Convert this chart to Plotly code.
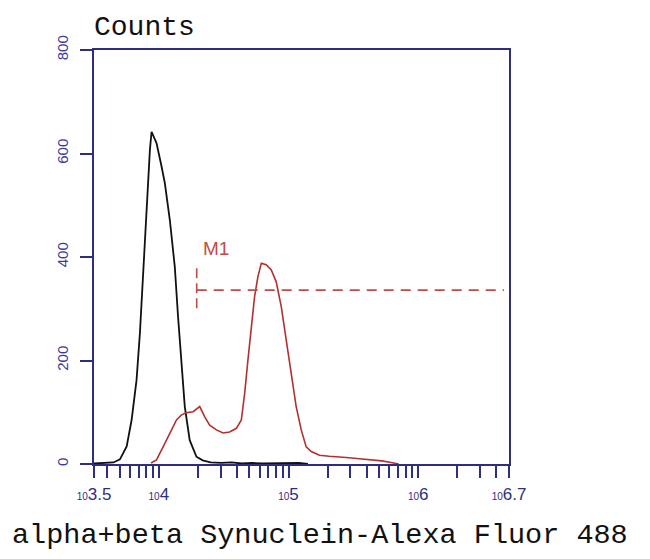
import numpy as np
import plotly.graph_objects as go

# ---- data (log10 of fluorescence, counts) ----
control_log_x = [3.50, 3.58, 3.65, 3.70, 3.752, 3.790, 3.828, 3.854, 3.879, 3.905, 3.931, 3.944,
                 3.982, 4.021, 4.046, 4.085, 4.123, 4.148, 4.175, 4.200, 4.238, 4.290, 4.338,
                 4.40, 4.48, 4.56, 4.64, 4.72, 4.80, 4.90, 5.00, 5.08, 5.15]
control_counts = [1, 2, 3, 9, 34, 85, 162, 253, 369, 478, 607, 642,
                  620, 575, 543, 471, 381, 285, 188, 111, 46, 14, 7,
                  3, 2, 3, 1, 2, 1, 1, 2, 2, 0]

sample_log_x = [3.94, 3.982, 4.033, 4.085, 4.136, 4.175, 4.213, 4.264, 4.315, 4.354, 4.392,
                4.444, 4.495, 4.546, 4.598, 4.636, 4.662, 4.687, 4.713, 4.738, 4.764, 4.790,
                4.828, 4.867, 4.905, 4.944, 4.982, 5.021, 5.059, 5.098, 5.136, 5.175, 5.238,
                5.315, 5.392, 5.469, 5.546, 5.646, 5.72, 5.79, 5.85]
sample_counts = [2, 8, 33, 60, 85, 95, 99, 101, 111, 91, 75,
                 66, 60, 62, 69, 85, 137, 201, 265, 323, 362, 388,
                 385, 375, 352, 304, 240, 176, 111, 66, 33, 24, 17,
                 15, 14, 12, 10, 8, 6, 3, 0]

gate_label = "M1"
gate_log_x = [4.292, 6.662]
gate_count = 336
gate_tick_counts = [301, 380]

x_tick_exponents = ["3.5", "4", "5", "6", "6.7"]
y_tick_values = [0, 200, 400, 600, 800]

x_title = "alpha+beta Synuclein-Alexa Fluor 488"
y_title = "Counts"

# ---- styles ----
NAVY = "#2e2e80"
TICKBLUE = "#3b3b9e"
RED = "#b3302e"
GATE_RED = "#c24a47"
MONO = "Liberation Mono, DejaVu Sans Mono, monospace"

fig = go.Figure()

fig.add_trace(go.Scatter(
    x=10 ** np.array(control_log_x), y=control_counts, mode="lines",
    line=dict(color="#111111", width=1.8), showlegend=False, hoverinfo="skip"))

fig.add_trace(go.Scatter(
    x=10 ** np.array(sample_log_x), y=sample_counts, mode="lines",
    line=dict(color=RED, width=1.6), showlegend=False, hoverinfo="skip"))

# gate M1: horizontal dashed line + vertical dashed tick at its start
fig.add_trace(go.Scatter(
    x=10 ** np.array(gate_log_x), y=[gate_count, gate_count], mode="lines",
    line=dict(color=GATE_RED, width=1.6, dash="10px,7px"), showlegend=False, hoverinfo="skip"))
fig.add_trace(go.Scatter(
    x=[10 ** gate_log_x[0]] * 2, y=gate_tick_counts, mode="lines",
    line=dict(color=GATE_RED, width=1.6, dash="10px,5px"), showlegend=False, hoverinfo="skip"))

fig.add_annotation(
    x=gate_log_x[0] + 0.03, y=gate_tick_counts[1] + 12, xref="x", yref="y",
    text=gate_label, showarrow=False, xanchor="left", yanchor="bottom",
    font=dict(family="Liberation Sans, Arial, sans-serif", size=19, color=GATE_RED))

# ticks
major_vals = [10 ** float(e) for e in x_tick_exponents]
major_text = ["<span style='font-size:10px'>10</span>" + e for e in x_tick_exponents]
minor_vals = []
for dec in [3, 4, 5, 6]:
    for m in range(2, 10):
        v = m * 10 ** dec
        if 10 ** 3.5 < v < 10 ** 6.7:
            minor_vals.append(v)

fig.update_xaxes(
    type="log", range=[3.5, 6.7],
    tickmode="array", tickvals=major_vals, ticktext=major_text,
    ticks="outside", ticklen=12, tickwidth=2, tickcolor=NAVY,
    tickfont=dict(family="Liberation Sans, Arial, sans-serif", size=17, color=NAVY),
    minor=dict(tickmode="array", tickvals=minor_vals, ticks="outside",
               ticklen=12, tickwidth=2, tickcolor=NAVY, showgrid=False),
    showline=True, linecolor=NAVY, linewidth=2, mirror=True,
    showgrid=False, zeroline=False, ticklabelstandoff=2)

fig.update_yaxes(
    range=[0, 800], tickmode="array", tickvals=y_tick_values,
    ticktext=[str(v) for v in y_tick_values], tickangle=-90,
    ticks="outside", ticklen=12, tickwidth=2, tickcolor=NAVY,
    tickfont=dict(family="Liberation Sans, Arial, sans-serif", size=15, color=TICKBLUE),
    showline=True, linecolor=NAVY, linewidth=2, mirror=True,
    showgrid=False, zeroline=False, ticklabelstandoff=6)

fig.add_annotation(
    x=-0.005, y=1.055, xref="paper", yref="paper", text=y_title, showarrow=False,
    xanchor="left", yanchor="middle",
    font=dict(family=MONO, size=28, color="#111111"))

fig.add_annotation(
    x=0.545, y=-0.172, xref="paper", yref="paper", text=x_title, showarrow=False,
    xanchor="center", yanchor="middle",
    font=dict(family=MONO, size=28.5, color="#111111"))

# page body has an 8px default margin, so the figure is sized to fit the window
fig.update_layout(
    width=642, height=551,
    margin=dict(l=86, r=141, t=42, b=95),
    paper_bgcolor="white", plot_bgcolor="white",
    showlegend=False)

fig.write_html("out.html")
